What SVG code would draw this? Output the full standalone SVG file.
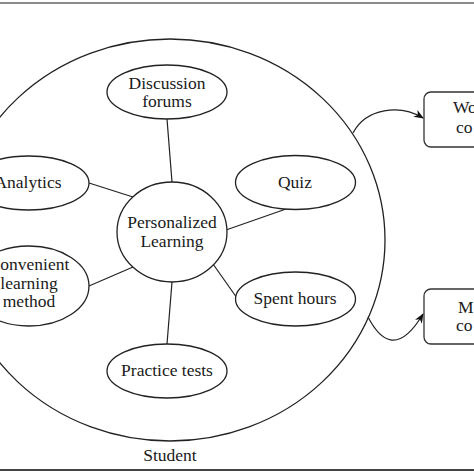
<svg xmlns="http://www.w3.org/2000/svg" width="474" height="474" viewBox="0 0 474 474" font-family="'Liberation Serif', 'DejaVu Serif', serif">
<style>
.n{fill:#fff;stroke:#222;stroke-width:1.3}
text{font-family:'Liberation Serif','DejaVu Serif',serif;font-size:17.5px;fill:#1a1a1a;text-anchor:middle}
.s{text-anchor:start}
.c{fill:none;stroke:#222;stroke-width:1.2}
.b{fill:#fff;stroke:#333;stroke-width:1.3}
</style>
<defs>
<marker id="ah" markerWidth="10" markerHeight="8" refX="9" refY="4" orient="auto" markerUnits="userSpaceOnUse">
<path d="M0,0 L10,4 L0,8 L3,4 Z" fill="#111"/>
</marker>
</defs>
<rect x="0" y="0" width="474" height="474" fill="#fff"/>
<line x1="0" y1="3" x2="474" y2="3" stroke="#8a8a8a" stroke-width="1.8"/>
<line x1="0" y1="470" x2="474" y2="470" stroke="#444" stroke-width="2"/>
<g id="student">
<ellipse cx="170" cy="240" rx="215" ry="201" fill="none" stroke="#222" stroke-width="1.3"/>
<text x="170" y="461">Student</text>
</g>
<g id="connectors">
<line class="c" x1="167" y1="119" x2="172" y2="182"/>
<line class="c" x1="89" y1="183" x2="133" y2="197"/>
<line class="c" x1="286" y1="209" x2="226" y2="230"/>
<line class="c" x1="89" y1="286" x2="133" y2="267"/>
<line class="c" x1="237" y1="298" x2="213" y2="264"/>
<line class="c" x1="167" y1="344" x2="172" y2="282"/>
<path class="c" d="M353,133 C366,108 400,104 423,118" marker-end="url(#ah)"/>
<path class="c" d="M368,317 C380,340 398,356 423,314" marker-end="url(#ah)"/>
</g>
<g id="personalized-learning">
<ellipse class="n" cx="172" cy="232" rx="55" ry="50"/>
<text x="172" y="228">Personalized</text>
<text x="172" y="247">Learning</text>
</g>
<g id="discussion-forums">
<ellipse class="n" cx="167" cy="92" rx="60" ry="27"/>
<text x="167" y="89">Discussion</text>
<text x="167" y="107">forums</text>
</g>
<g id="analytics">
<ellipse class="n" cx="29" cy="183" rx="60" ry="27"/>
<text x="28" y="188">Analytics</text>
</g>
<g id="quiz">
<ellipse class="n" cx="295.5" cy="182.5" rx="60" ry="27"/>
<text x="295" y="188">Quiz</text>
</g>
<g id="convenient-learning-method">
<ellipse class="n" cx="29" cy="286" rx="60" ry="40"/>
<text x="29" y="270">Convenient</text>
<text x="29" y="289">learning</text>
<text x="29" y="307">method</text>
</g>
<g id="spent-hours">
<ellipse class="n" cx="295.5" cy="299" rx="60" ry="27"/>
<text x="295" y="304">Spent hours</text>
</g>
<g id="practice-tests">
<ellipse class="n" cx="167" cy="371" rx="60" ry="27"/>
<text x="167" y="376">Practice tests</text>
</g>
<g id="box-w">
<rect class="b" x="424" y="92" width="80" height="55" rx="7"/>
<text class="s" x="453" y="113">Wo</text>
<text class="s" x="456" y="133">co</text>
</g>
<g id="box-m">
<rect class="b" x="424" y="289" width="80" height="55" rx="7"/>
<text class="s" x="458" y="313">M</text>
<text class="s" x="456" y="331">co</text>
</g>
</svg>
